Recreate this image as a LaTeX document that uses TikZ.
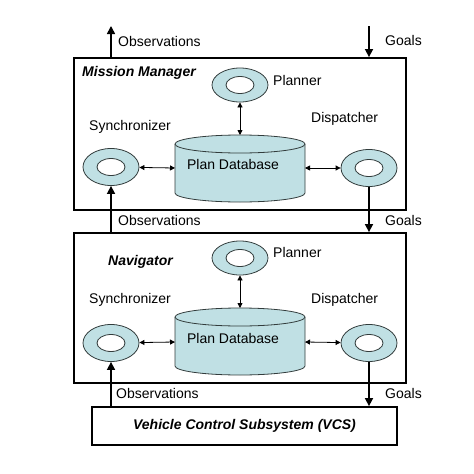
\documentclass[tikz,border=0pt]{standalone}
\usepackage{fontspec}
\setmainfont{Liberation Sans}
\usetikzlibrary{arrows.meta,shapes.geometric}
\definecolor{teal1}{RGB}{192,224,228}
\definecolor{edge}{RGB}{50,60,60}
\tikzset{
  lbl/.style={inner sep=0pt, anchor=west, font=\fontsize{14}{16}\selectfont},
  title/.style={lbl, font=\fontsize{14}{16}\selectfont\bfseries\itshape},
  box/.style={draw=black, line width=1.8pt, inner sep=0pt},
  torusout/.style={ellipse, draw=edge, line width=0.8pt, fill=teal1, minimum width=56pt, minimum height=37pt, inner sep=0pt},
  torusin/.style={ellipse, draw=edge, line width=0.8pt, fill=white, minimum width=28pt, minimum height=17pt, inner sep=0pt},
  bigarrow/.style={line width=1.6pt, -{Triangle[length=8pt,width=8pt]}},
  biarrow/.style={line width=0.8pt, {Triangle[length=5pt,width=5pt]}-{Triangle[length=5pt,width=5pt]}},
  cyl/.style={draw=edge, line width=0.8pt, fill=teal1}
}
\begin{document}
\begin{tikzpicture}[x=1pt,y=-1pt]
\useasboundingbox (0,0) rectangle (474,474);
% ---------- Mission Manager ----------
\node[box, minimum width=332pt, minimum height=152pt] (mm) at (240,134) {};
\node[title] (mmt) at (82,73) {Mission Manager};
% cylinder
\fill[teal1] (175,144) -- (175,193) arc[start angle=180, end angle=0, x radius=65, y radius=9] -- (305,144) -- cycle;
\draw[edge, line width=0.8pt] (175,144) -- (175,193) arc[start angle=180, end angle=0, x radius=65, y radius=9] -- (305,144);
\draw[cyl] (240,144) ellipse[x radius=65, y radius=9];
\node[inner sep=0pt, font=\fontsize{14}{16}\selectfont] (db1) at (233,164) {Plan Database};
\coordinate (db1w) at (175,168);
\coordinate (db1e) at (305,168);
\coordinate (db1n) at (240,135);
% tori
\node[torusout, minimum height=34pt] (p1) at (240,85) {};
\node[torusin] (p1i) at (p1) {};
\node[torusout] (s1) at (111,167) {};
\node[torusin] (s1i) at (s1) {};
\node[torusout] (d1) at (369,168) {};
\node[torusin] (d1i) at (d1) {};
\node[lbl] (p1l) at (273,80) {Planner};
\node[lbl] (s1l) at (89,127) {Synchronizer};
\node[lbl] (d1l) at (311,119) {Dispatcher};
\draw[biarrow] (p1) -- (db1n);
\draw[biarrow] (s1) -- (db1w);
\draw[biarrow] (db1e) -- (d1);
% top connectors
\coordinate (obstop) at (111,26);
\coordinate (goaltop) at (369,26);
\draw[bigarrow] (s1 |- mm.north) -- (obstop);
\draw[bigarrow] (goaltop) -- (d1 |- mm.north);
\node[lbl] (o1) at (118,41) {Observations};
\node[lbl] (g1) at (385,40) {Goals};
% ---------- Navigator ----------
\node[box, minimum width=332pt, minimum height=150pt] (nav) at (240,308) {};
\node[title] (navt) at (108,262) {Navigator};
\fill[teal1] (175,317) -- (175,366) arc[start angle=180, end angle=0, x radius=65, y radius=9] -- (305,317) -- cycle;
\draw[edge, line width=0.8pt] (175,317) -- (175,366) arc[start angle=180, end angle=0, x radius=65, y radius=9] -- (305,317);
\draw[cyl] (240,317) ellipse[x radius=65, y radius=9];
\node[inner sep=0pt, font=\fontsize{14}{16}\selectfont] (db2) at (233,338) {Plan Database};
\coordinate (db2w) at (175,342);
\coordinate (db2e) at (305,342);
\coordinate (db2n) at (240,308);
\node[torusout, minimum height=34pt] (p2) at (240,258) {};
\node[torusin] (p2i) at (p2) {};
\node[torusout] (s2) at (111,343) {};
\node[torusin] (s2i) at (s2) {};
\node[torusout] (d2) at (369,343) {};
\node[torusin] (d2i) at (d2) {};
\node[lbl] (p2l) at (273,252) {Planner};
\node[lbl] (s2l) at (89,300) {Synchronizer};
\node[lbl] (d2l) at (311,300) {Dispatcher};
\draw[biarrow] (p2) -- (db2n);
\draw[biarrow] (s2) -- (db2w);
\draw[biarrow] (db2e) -- (d2);
% between MM and Navigator
\draw[bigarrow] (s1 |- nav.north) -- (s1.south);
\draw[bigarrow] (d1.south) -- (d1 |- nav.north);
\node[lbl] (o2) at (118,220) {Observations};
\node[lbl] (g2) at (385,220) {Goals};
% ---------- VCS ----------
\node[box, minimum width=305pt, minimum height=38pt, font=\fontsize{14}{16}\selectfont\bfseries\itshape] (vcs) at (244.5,426) {Vehicle Control Subsystem (VCS)};
\draw[bigarrow] (s2 |- vcs.north) -- (s2.south);
\draw[bigarrow] (d2.south) -- (d2 |- vcs.north);
\node[lbl] (o3) at (116,393) {Observations};
\node[lbl] (g3) at (385,393) {Goals};
\end{tikzpicture}
\end{document}
